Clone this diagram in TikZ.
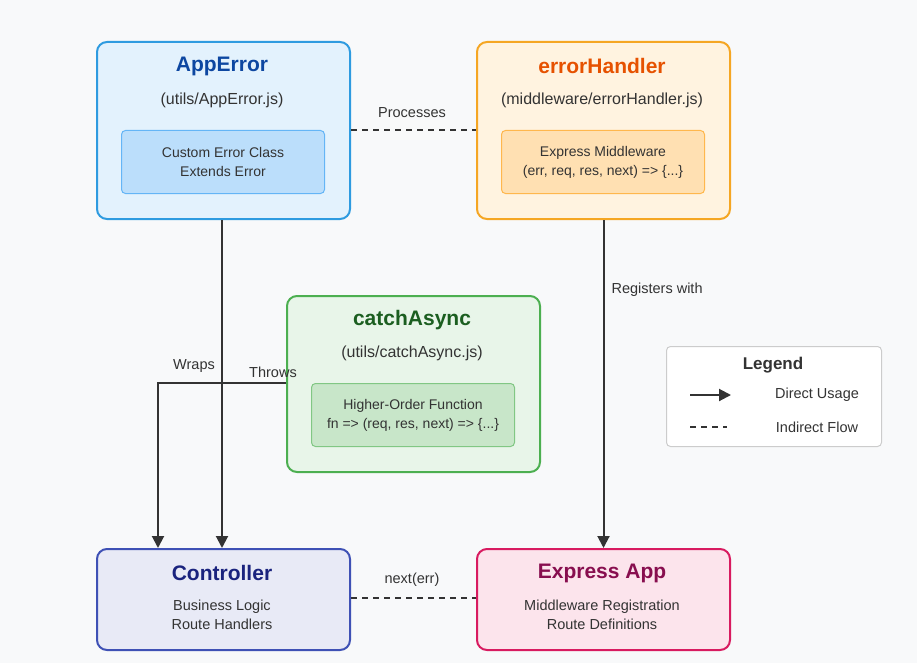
\documentclass[tikz,border=0pt]{standalone}
\usepackage{fontspec}
\setmainfont{Liberation Sans}
\usetikzlibrary{arrows.meta}
\definecolor{bg}{HTML}{F8F9FA}
\definecolor{aeB}{HTML}{2E9BE0}\definecolor{aeF}{HTML}{E3F2FD}\definecolor{aeIB}{HTML}{64B5F6}\definecolor{aeIF}{HTML}{BBDEFB}\definecolor{aeT}{HTML}{0D47A1}
\definecolor{ehB}{HTML}{F5A623}\definecolor{ehF}{HTML}{FFF3E0}\definecolor{ehIB}{HTML}{FFB74D}\definecolor{ehIF}{HTML}{FFE0B2}\definecolor{ehT}{HTML}{E65100}
\definecolor{caB}{HTML}{4CAF50}\definecolor{caF}{HTML}{E8F5E9}\definecolor{caIB}{HTML}{81C784}\definecolor{caIF}{HTML}{C8E6C9}\definecolor{caT}{HTML}{1B5E20}
\definecolor{coB}{HTML}{3F51B5}\definecolor{coF}{HTML}{E8EAF6}\definecolor{coT}{HTML}{1A237E}
\definecolor{exB}{HTML}{D81B60}\definecolor{exF}{HTML}{FCE4EC}\definecolor{exT}{HTML}{880E4F}
\definecolor{ink}{HTML}{333333}
\begin{document}
\begin{tikzpicture}[x=1pt,y=-1pt,
  box/.style={draw, line width=2pt, rounded corners=10pt, minimum width=253pt, anchor=north west, inner sep=0pt},
  inner/.style={draw, line width=1pt, rounded corners=4pt, minimum width=203pt, minimum height=63pt, anchor=north west, align=center, font=\fontsize{14}{19}\selectfont, text=ink},
  ttl/.style={font=\fontsize{21}{24}\selectfont\bfseries},
  sub/.style={font=\fontsize{16}{18}\selectfont, text=ink},
  lbl/.style={font=\fontsize{14.5}{16}\selectfont, text=ink},
  solid arrow/.style={draw=ink, line width=2pt, -{Triangle[length=12pt,width=12pt]}},
  dashline/.style={draw=ink, line width=2pt, dash pattern=on 6pt off 5pt}]
\fill[bg] (0,0) rectangle (917,663);
% AppError
\node[box, draw=aeB, fill=aeF, minimum height=177pt] (ae) at (96,41) {};
\node[ttl, text=aeT] (aet) at (222,66) {AppError};
\node[sub] (aes) at (222,100) {(utils/AppError.js)};
\node[inner, draw=aeIB, fill=aeIF] (aei) at (121,130) {Custom Error Class\\Extends Error};
% errorHandler
\node[box, draw=ehB, fill=ehF, minimum height=177pt] (eh) at (476,41) {};
\node[ttl, text=ehT] (eht) at (602,66) {errorHandler};
\node[sub] (ehs) at (602,100) {(middleware/errorHandler.js)};
\node[inner, draw=ehIB, fill=ehIF] (ehi) at (501,130) {Express Middleware\\(err, req, res, next) => \{...\}};
% catchAsync
\node[box, draw=caB, fill=caF, minimum height=176pt] (ca) at (286,295) {};
\node[ttl, text=caT] (cat) at (412,320) {catchAsync};
\node[sub] (cas) at (412,353) {(utils/catchAsync.js)};
\node[inner, draw=caIB, fill=caIF] (cai) at (311,383) {Higher-Order Function\\fn => (req, res, next) => \{...\}};
% Controller
\node[box, draw=coB, fill=coF, minimum height=101pt] (co) at (96,548) {};
\node[ttl, text=coT] (cot) at (222,573) {Controller};
\node[lbl, align=center, font=\fontsize{14.5}{19}\selectfont] (cod) at (222,615) {Business Logic\\Route Handlers};
% Express
\node[box, draw=exB, fill=exF, minimum height=101pt] (ex) at (476,548) {};
\node[ttl, text=exT] (ext) at (602,573) {Express App};
\node[lbl, align=center, font=\fontsize{14.5}{19}\selectfont] (exd) at (602,615) {Middleware Registration\\Route Definitions};
% Legend
\node[draw=black!20, line width=1pt, fill=white, rounded corners=4pt, minimum width=215pt, minimum height=100pt, anchor=north west] (lg) at (666,346) {};
\node[font=\fontsize{17}{18}\selectfont\bfseries, text=ink] (lgt) at (773,365) {Legend};
\coordinate (l1a) at (690,395); \coordinate (l1b) at (731,395);
\coordinate (l2a) at (690,427); \coordinate (l2b) at (727,427);
\draw[solid arrow] (l1a) -- (l1b);
\draw[dashline] (l2a) -- (l2b);
\node[lbl] (lg1) at (817,395) {Direct Usage};
\node[lbl] (lg2) at (817,427) {Indirect Flow};
% connectors
\draw[dashline] (ae.east |- 0,130) -- (eh.west |- 0,130);
\node[lbl] (pl) at (412,113) {Processes};
\draw[dashline] (co.east |- 0,598) -- (ex.west |- 0,598);
\node[lbl] (nl) at (412,580) {next(err)};
\draw[solid arrow] (ae.south -| 222,0) -- (co.north -| 222,0);
\draw[solid arrow] (eh.south) -- (ex.north);
\node[lbl, anchor=west] (rl) at (608,290) {Registers with};
\draw[solid arrow] (ca.west |- 0,383) -- (158,383) -- (co.north -| 158,0);
\node[lbl] (wl) at (194,366) {Wraps};
\node[lbl] (tl) at (273,372) {Throws};
\end{tikzpicture}
\end{document}
